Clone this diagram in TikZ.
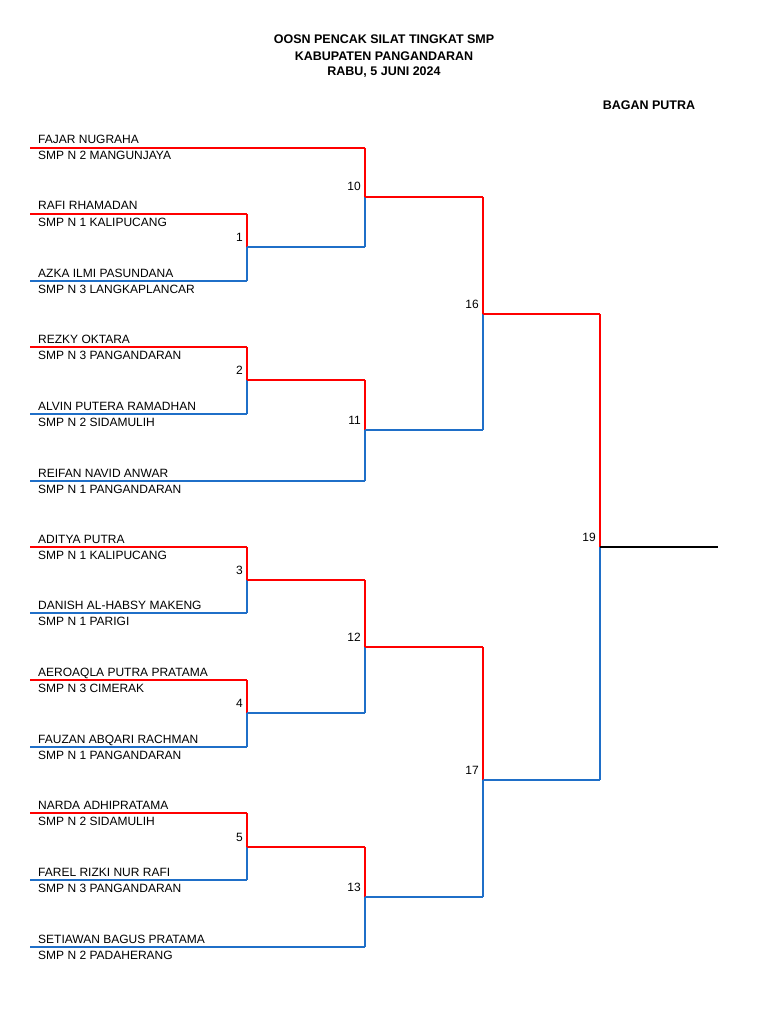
\documentclass[tikz,border=0pt]{standalone}
\usepackage{fontspec}
\setmainfont{Liberation Sans}
\definecolor{rd}{HTML}{FF0000}
\definecolor{bl}{HTML}{1F6FC8}
\begin{document}
\begin{tikzpicture}[x=1pt,y=-1pt,
  lbl/.style={anchor=base west,inner sep=0pt,font=\fontsize{12}{14}\selectfont},
  num/.style={anchor=base east,inner sep=0pt,font=\fontsize{12}{14}\selectfont},
  ttl/.style={inner sep=0pt,font=\fontsize{12.5}{14}\selectfont\bfseries},
  r/.style={draw=rd,line width=1.4pt},
  b/.style={draw=bl,line width=1.4pt}]
\useasboundingbox (0,0) rectangle (768,1024);
\node[ttl] (t1) at (384,39) {OOSN PENCAK SILAT TINGKAT SMP};
\node[ttl] (t2) at (384,56) {KABUPATEN PANGANDARAN};
\node[ttl] (t3) at (384,72) {RABU, 5 JUNI 2024};
\node[ttl] (t4) at (649,105) {BAGAN PUTRA};
\foreach \y/\n/\s in {148/FAJAR NUGRAHA/SMP N 2 MANGUNJAYA,
 214/RAFI RHAMADAN/SMP N 1 KALIPUCANG,
 281/AZKA ILMI PASUNDANA/SMP N 3 LANGKAPLANCAR,
 347/REZKY OKTARA/SMP N 3 PANGANDARAN,
 414/ALVIN PUTERA RAMADHAN/SMP N 2 SIDAMULIH,
 481/REIFAN NAVID ANWAR/SMP N 1 PANGANDARAN,
 547/ADITYA PUTRA/SMP N 1 KALIPUCANG,
 613/DANISH AL-HABSY MAKENG/SMP N 1 PARIGI,
 680/AEROAQLA PUTRA PRATAMA/SMP N 3 CIMERAK,
 747/FAUZAN ABQARI RACHMAN/SMP N 1 PANGANDARAN,
 813/NARDA ADHIPRATAMA/SMP N 2 SIDAMULIH,
 880/FAREL RIZKI NUR RAFI/SMP N 3 PANGANDARAN,
 947/SETIAWAN BAGUS PRATAMA/SMP N 2 PADAHERANG}{
 \node[lbl] (n\y) at (38,\y-4) {\n};
 \node[lbl] (s\y) at (38,\y+12) {\s};
}
\foreach \y/\c/\x in {148/r/365,214/r/247,281/b/247,347/r/247,414/b/247,481/b/365,
  547/r/247,613/b/247,680/r/247,747/b/247,813/r/247,880/b/247,947/b/365}{
 \path[\c] (30,\y) -- (\x,\y);
}
% matches: x, top y, bottom y, meeting y, number, out colour, out x
\foreach \x/\ta/\tb/\mid/\m/\oc/\ox in {247/214/281/247/1/b/365, 247/347/414/380/2/r/365,
  247/547/613/580/3/r/365, 247/680/747/713/4/b/365, 247/813/880/847/5/r/365,
  365/148/247/197/10/r/483, 365/380/481/430/11/b/483, 365/580/713/647/12/r/483,
  365/847/947/897/13/b/483, 483/197/430/314/16/r/600, 483/647/897/780/17/b/600}{
 \coordinate (m\m) at (\x,\mid);
 \path[r] (\x,\ta) -- (m\m);
 \path[b] (\x,\tb) -- (m\m);
 \path[\oc] (m\m) -- (\ox,\mid);
 \node[num] (l\m) at (\x-4,\mid-6) {\m};
}
\coordinate (m19) at (600,547);
\coordinate (w) at (718,547);
\path[r] (600,314) -- (m19);
\path[b] (600,780) -- (m19);
\draw[line width=1.4pt] (m19) -- (w);
\node[num] (l19) at (596,541) {19};
\end{tikzpicture}
\end{document}
